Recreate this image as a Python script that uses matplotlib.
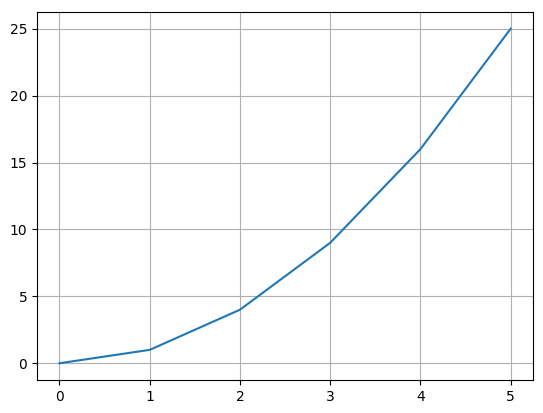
import matplotlib
matplotlib.use("Agg")
import matplotlib.pyplot as plt

x = [0, 1, 2, 3, 4, 5]
y = [0, 1, 4, 9, 16, 25]

fig = plt.figure(figsize=(5.43, 4.13), dpi=100)
ax = fig.add_axes([0.068, 0.080, 0.914, 0.891])
ax.plot(x, y)
ax.grid(True)
fig.savefig("out.png", dpi=100)
